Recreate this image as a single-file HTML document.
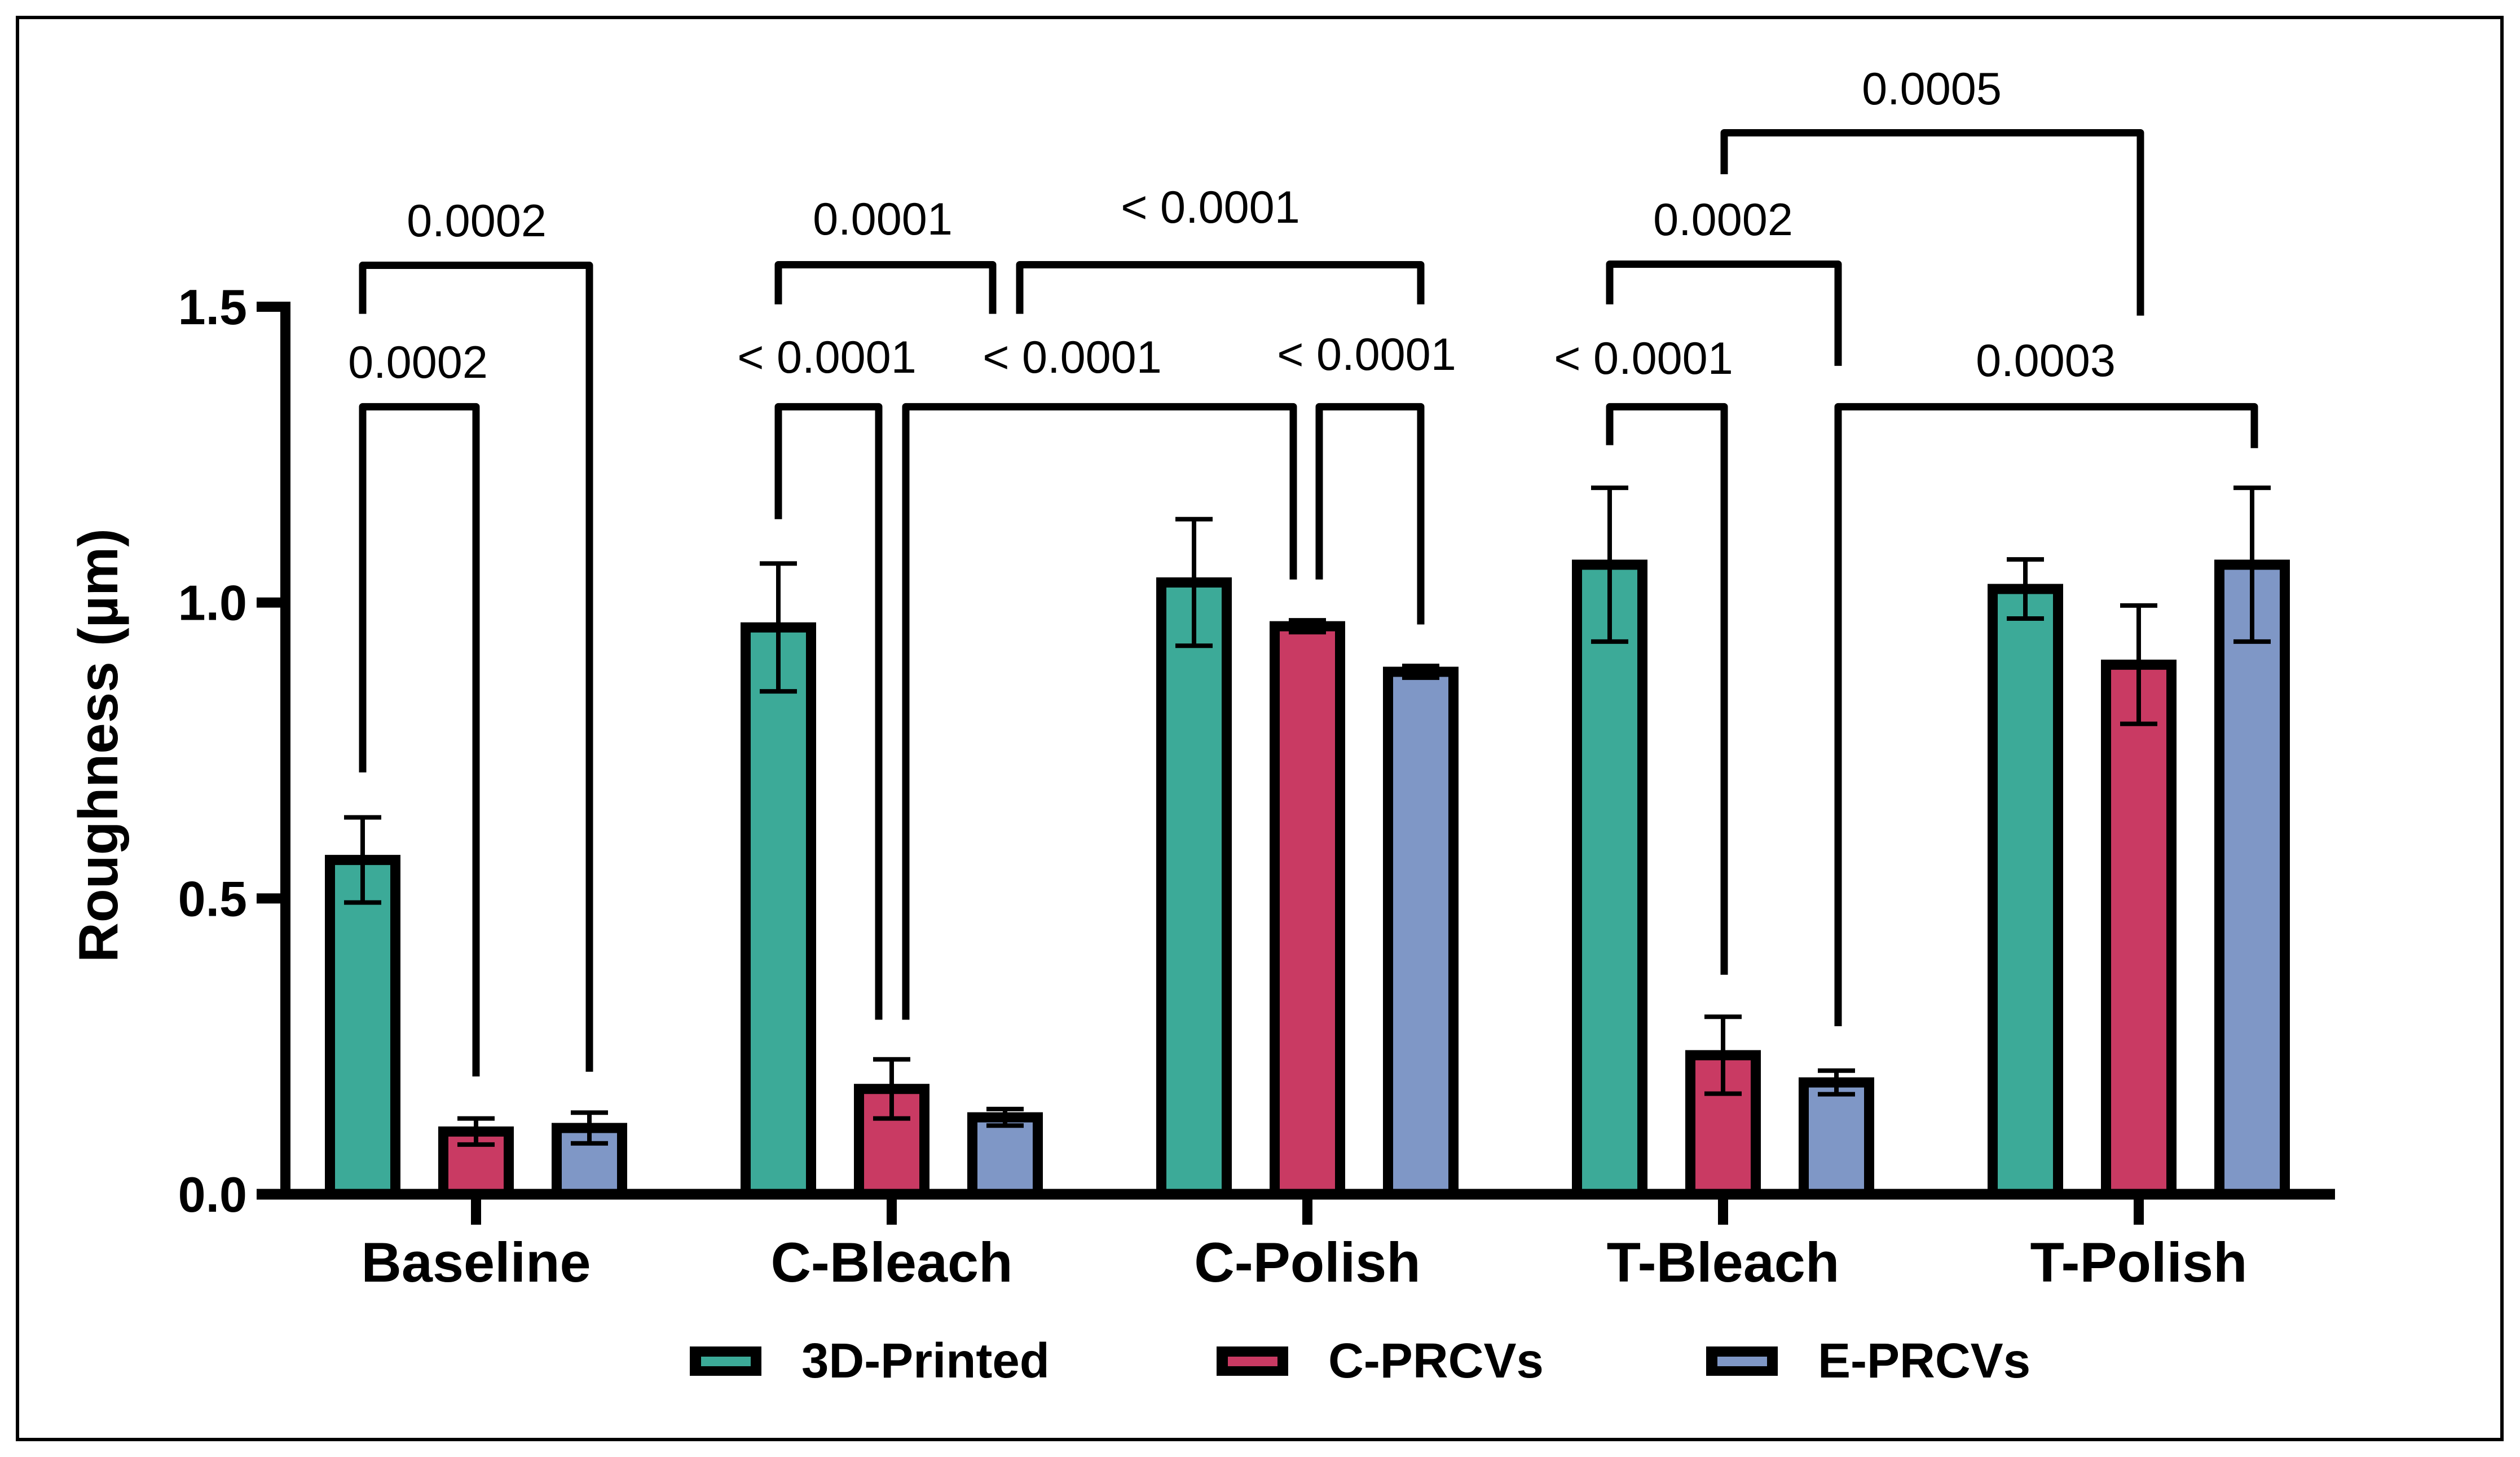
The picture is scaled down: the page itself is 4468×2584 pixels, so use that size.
<!DOCTYPE html>
<html><head><meta charset="utf-8"><style>
html,body{margin:0;padding:0;background:#fff;}
svg{display:block;font-family:"Liberation Sans",Arial,sans-serif;}
</style></head><body>
<svg id="chart" width="4468" height="2584" viewBox="0 0 4468 2584" xmlns="http://www.w3.org/2000/svg">
<rect x="31" y="31" width="4405" height="2522" fill="none" stroke="#000" stroke-width="6"/>
<g id="bars"></g>
<g id="errs"></g>
<g id="brackets"></g>
<g id="axes"></g>
<text x="0" y="0" transform="translate(208,1322) rotate(-90)" text-anchor="middle" font-size="98" font-weight="bold">Roughness (µm)</text>
<g id="legend"></g>
</svg>
<script>
const categories = ["Baseline","C-Bleach","C-Polish","T-Bleach","T-Polish"];
const seriesNames = ["3D-Printed","C-PRCVs","E-PRCVs"];
const seriesColors = ["#3caa98","#c93a63","#7f97c6"];
const printed = [0.565,0.958,1.034,1.064,1.023];
const printedErr = [0.072,0.108,0.107,0.13,0.05];
const cprcv = [0.106,0.178,0.960,0.235,0.895];
const cprcvErr = [0.022,0.05,0.01,0.065,0.10];
const eprcv = [0.112,0.130,0.883,0.189,1.064];
const eprcvErr = [0.026,0.014,0.01,0.02,0.13];
const yTicks = [0,0.5,1.0,1.5];
const yTickLabels = ["0.0","0.5","1.0","1.5"];
// brackets: [group1, series1, xoff1, group2, series2, xoff2, topValue, leftBottom, rightBottom, label, labelX, labelBaseline]
const brackets = [
 [0,0,0, 0,1,0, 1.331,0.713,0.199,"0.0002",741,670],
 [0,0,0, 0,2,0, 1.570,1.488,0.207,"0.0002",845,419],
 [1,0,0, 1,1,-23, 1.331,1.141,0.295,"< 0.0001",1466,661],
 [1,1,25, 2,1,-25, 1.331,0.295,1.039,"< 0.0001",1901,661],
 [2,1,21, 2,2,0, 1.331,1.039,0.963,"< 0.0001",2423,656],
 [1,0,0, 1,2,-22, 1.571,1.504,1.488,"0.0001",1565,416],
 [1,2,26, 2,2,0, 1.571,1.488,1.504,"< 0.0001",2146,395],
 [3,0,0, 3,1,2, 1.331,1.266,0.371,"< 0.0001",2914,663],
 [3,0,0, 3,2,3, 1.572,1.504,1.400,"0.0002",3055,417],
 [3,2,3, 4,2,4, 1.331,0.284,1.261,"0.0003",3627,667],
 [3,1,2, 4,1,3, 1.794,1.724,1.485,"0.0005",3425,185]
];
const NS="http://www.w3.org/2000/svg";
const Y0=2118, PXU=(2118-544)/1.5;
function yScale(v){return Y0 - v*PXU;}
function xGroup(g){return 844 + g*737;}
function xBar(g,s){return xGroup(g) + (s-1)*201;}
function mk(tag,attrs,parent){const e=document.createElementNS(NS,tag);for(const k in attrs)e.setAttribute(k,attrs[k]);parent.appendChild(e);return e;}
const allVals=[printed,cprcv,eprcv], allErr=[printedErr,cprcvErr,eprcvErr];
const gb=document.getElementById('bars'), ge=document.getElementById('errs');
const BW=116, SW=18;
for(let s=0;s<3;s++){for(let g=0;g<categories.length;g++){
  const v=allVals[s][g], cx=xBar(g,s), yt=yScale(v);
  const r=mk('rect',{x:cx-BW/2,y:yt,width:BW,height:Y0-yt,fill:seriesColors[s],stroke:'#000','stroke-width':SW},gb);
  
  
  const e=allErr[s][g], yHi=yScale(v+e), yLo=yScale(v-e);
  const eg=mk('g',{stroke:'#000','stroke-width':8},ge);
  
  
  mk('line',{x1:cx,x2:cx,y1:yHi,y2:yLo},eg);
  mk('line',{x1:cx-33,x2:cx+33,y1:yHi,y2:yHi},eg);
  mk('line',{x1:cx-33,x2:cx+33,y1:yLo,y2:yLo},eg);
}}
const gbr=document.getElementById('brackets');
brackets.forEach((b,i)=>{
  const x1=xBar(b[0],b[1])+b[2], x2=xBar(b[3],b[4])+b[5], yt=yScale(b[6]);
  const p=mk('path',{d:`M${x1},${yScale(b[7])}V${yt}H${x2}V${yScale(b[8])}`,fill:'none',stroke:'#000','stroke-width':13,'stroke-linejoin':'round'},gbr);
  
  
  const t=mk('text',{x:b[10],y:b[11],'text-anchor':'middle','font-size':81},gbr);
  t.textContent=b[9];
  
  
});
const ga=document.getElementById('axes');
const ya=mk('line',{x1:506,x2:506,y1:535,y2:2127,stroke:'#000','stroke-width':18},ga);


const xa=mk('line',{x1:455,x2:4140,y1:Y0,y2:Y0,stroke:'#000','stroke-width':19},ga);


yTicks.forEach((v,i)=>{
  const y=yScale(v);
  const tk=mk('line',{x1:455,x2:506,y1:y,y2:y,stroke:'#000','stroke-width':18},ga);
  
  
  const t=mk('text',{x:438,y:y+31,'text-anchor':'end','font-size':88,'font-weight':'bold'},ga);
  t.textContent=yTickLabels[i];
  
  
});
categories.forEach((c,g)=>{
  const x=xGroup(g);
  const tk=mk('line',{x1:x,x2:x,y1:Y0,y2:2172,stroke:'#000','stroke-width':18},ga);
  
  
  const t=mk('text',{x:x,y:2273,'text-anchor':'middle','font-size':99,'font-weight':'bold'},ga);
  t.textContent=c;
  
  
});
const gl=document.getElementById('legend');
const legX=[1223,2157,3025];
seriesNames.forEach((n,s)=>{
  const g=mk('g',{},gl);
  
  
  mk('rect',{x:legX[s],y:2388,width:127,height:52,fill:'#000'},g);
  mk('rect',{x:legX[s]+20,y:2406,width:88,height:17,fill:seriesColors[s]},g);
  const t=mk('text',{x:legX[s]+198,y:2443,'font-size':87,'font-weight':'bold'},g);
  t.textContent=n;
});
</script>
</body></html>
